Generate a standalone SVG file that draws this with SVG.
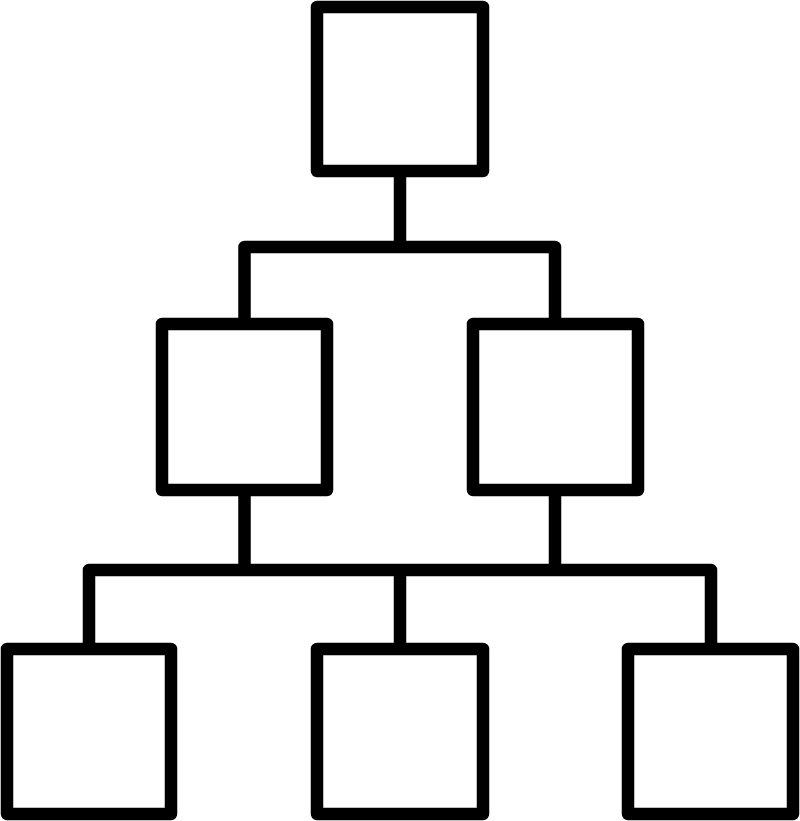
<svg xmlns="http://www.w3.org/2000/svg" width="800" height="821" viewBox="0 0 800 821">
<style>
.node{fill:#fff;stroke:#000;stroke-width:12.5;stroke-linejoin:round}
.conn{fill:none;stroke:#000;stroke-width:12.5;stroke-linejoin:round;stroke-linecap:butt}
</style>
<rect width="800" height="821" fill="#fff"/>
<g id="connectors">
<path class="conn" d="M400,177 V247"/>
<path class="conn" d="M244.5,318 V247 H555 V318"/>
<path class="conn" d="M244.5,496 V570"/>
<path class="conn" d="M555,496 V570"/>
<path class="conn" d="M89,643 V570 H711 V643"/>
<path class="conn" d="M400,570 V643"/>
</g>
<g id="n-top"><rect class="node" x="317" y="7" width="166" height="164"/></g>
<g id="n-mid-left"><rect class="node" x="162" y="324" width="165" height="166"/></g>
<g id="n-mid-right"><rect class="node" x="473" y="324" width="165" height="166"/></g>
<g id="n-bot-left"><rect class="node" x="7" y="649" width="164" height="165"/></g>
<g id="n-bot-center"><rect class="node" x="317" y="649" width="166" height="165"/></g>
<g id="n-bot-right"><rect class="node" x="628" y="649" width="165" height="165"/></g>
</svg>
